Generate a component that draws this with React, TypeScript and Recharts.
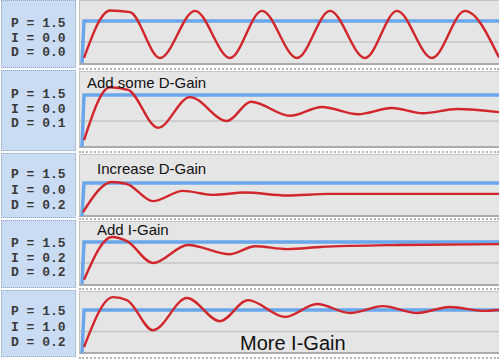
import { Line, LineChart, ReferenceLine, XAxis, YAxis } from "recharts"

const pGain = ["1.5", "1.5", "1.5", "1.5", "1.5"]
const iGain = ["0.0", "0.0", "0.0", "0.2", "1.0"]
const dGain = ["0.0", "0.1", "0.2", "0.2", "0.2"]
const captions = ["", "Add some D-Gain", "Increase D-Gain", "Add I-Gain", "More I-Gain"]

// setpoint step (same in every panel): [t, y]
const setpoint = [
  [3, 0],
  [5, 1],
  [420, 1],
]

// measured response per tuning, [t, y]
const respP = [
  [5, 0.12], [31, 1.25], [51, 1.21], [81, 0.12], [116, 1.24], [151, 0.12],
  [183, 1.24], [218, 0.12], [251, 1.24], [286, 0.12], [318, 1.24],
  [353, 0.12], [386, 1.24], [420, 0.13],
]
const respPD1 = [
  [5, 0.13], [31, 1.15], [49, 1.1], [79, 0.37], [111, 0.96], [148, 0.5],
  [172, 0.87], [211, 0.6], [243, 0.77], [279, 0.63], [313, 0.75],
  [344, 0.65], [378, 0.73], [420, 0.67],
]
const respPD2 = [
  [4, 0.12], [33, 1.03], [48, 0.97], [74, 0.45], [104, 0.76], [134, 0.64],
  [166, 0.71], [208, 0.62], [250, 0.67], [420, 0.67],
]
const respPID1 = [
  [5, 0.1], [33, 1.12], [48, 1.02], [74, 0.5], [109, 0.93], [151, 0.71],
  [176, 0.9], [208, 0.83], [241, 0.88], [321, 0.93], [420, 0.95],
]
const respPID2 = [
  [5, 0.14], [34, 1.3], [48, 1.23], [74, 0.53], [108, 1.28], [141, 0.74],
  [169, 1.23], [206, 0.84], [238, 1.14], [271, 0.93], [304, 1.09],
  [338, 0.93], [371, 1.07], [404, 0.98], [420, 1.0],
]
const responses = [respP, respPD1, respPD2, respPID1, respPID2]

const toRows = (pts: number[][]) => pts.map(([t, y]) => ({ t, y }))

// panel geometry in page pixels
const layout = [
  { top: 0, bottom: 65, zero: 63, one: 21, grid: true, cell: [0, 68], text: 17, lh: 14.5 },
  { top: 71, bottom: 148, zero: 147, one: 95, grid: true, cell: [70, 151], text: 88, lh: 14.5 },
  { top: 154, bottom: 217, zero: 216, one: 183, grid: false, cell: [153, 218], text: 167, lh: 15.5 },
  { top: 221, bottom: 286, zero: 284, one: 242, grid: true, cell: [220, 288], text: 237, lh: 14.5 },
  { top: 291, bottom: 354, zero: 353, one: 310, grid: true, cell: [290, 357], text: 304, lh: 15.5 },
]
const captionPos = [
  null,
  { x: 87, y: 83, size: 15 },
  { x: 97, y: 169, size: 15 },
  { x: 97, y: 230, size: 15 },
  { x: 240, y: 343, size: 20 },
]

const PLOT_X = 79
const PLOT_W = 420

function Panel(props: { i: number }) {
  const L = layout[props.i]
  const h = L.zero - L.top
  const ymax = h / (L.zero - L.one)
  return (
    <>
      <div
        style={{
          position: "absolute",
          left: PLOT_X,
          top: L.top,
          width: PLOT_W,
          height: L.bottom - L.top,
          boxSizing: "border-box",
          background: "#e5e5e5",
          borderTop: "1px solid #c4c4c4",
          borderLeft: "1px solid #c4c4c4",
          borderBottom: "2px solid #ababab",
        }}
      />
      <div style={{ position: "absolute", left: PLOT_X, top: L.top }}>
        <LineChart
          width={PLOT_W}
          height={h}
          margin={{ top: 0, right: 0, bottom: 0, left: 0 }}
        >
          <XAxis type="number" dataKey="t" domain={[0, PLOT_W]} hide />
          <YAxis type="number" domain={[0, ymax]} hide allowDataOverflow />
          {L.grid && (
            <ReferenceLine y={0.5} stroke="#c6c6c6" strokeWidth={1.5} />
          )}
          <Line
            data={toRows(setpoint)}
            dataKey="y"
            type="linear"
            stroke="#6aa7ea"
            strokeWidth={3.5}
            dot={false}
            isAnimationActive={false}
          />
          <Line
            data={toRows(responses[props.i])}
            dataKey="y"
            type="monotone"
            stroke="#d0262c"
            strokeWidth={2.4}
            dot={false}
            isAnimationActive={false}
          />
        </LineChart>
      </div>
      <div
        style={{
          position: "absolute",
          left: 1,
          top: L.cell[0],
          width: 75,
          height: L.cell[1] - L.cell[0],
          boxSizing: "border-box",
          background: "#c9dcf3",
          border: "1px dotted #8da4c2",
        }}
      />
      <div
        style={{
          position: "absolute",
          left: 11,
          top: L.text,
          fontFamily: "'Liberation Mono', 'Courier New', monospace",
          fontWeight: "bold",
          fontSize: 13,
          lineHeight: `${L.lh}px`,
          color: "#3a3a3a",
          whiteSpace: "pre",
        }}
      >
        {`P = ${pGain[props.i]}\nI = ${iGain[props.i]}\nD = ${dGain[props.i]}`}
      </div>
      {captionPos[props.i] && (
        <div
          style={{
            position: "absolute",
            left: captionPos[props.i]!.x,
            top: captionPos[props.i]!.y - captionPos[props.i]!.size * 0.6,
            fontFamily: "'Liberation Sans', Arial, sans-serif",
            fontSize: captionPos[props.i]!.size,
            lineHeight: `${captionPos[props.i]!.size * 1.2}px`,
            color: "#111",
            whiteSpace: "nowrap",
          }}
        >
          {captions[props.i]}
        </div>
      )}
    </>
  )
}

export default function App() {
  return (
    <div
      style={{
        position: "absolute",
        left: 0,
        top: 0,
        width: 500,
        height: 359,
        background: "#ffffff",
        overflow: "hidden",
      }}
    >
      {[0, 68, 151, 218, 288, 357].map((y) => (
        <div
          key={y}
          style={{
            position: "absolute",
            left: PLOT_X,
            top: y,
            width: PLOT_W,
            borderTop: "2px dotted #b4b4b4",
          }}
        />
      ))}
      {layout.map((_, i) => (
        <Panel key={i} i={i} />
      ))}
    </div>
  )
}
